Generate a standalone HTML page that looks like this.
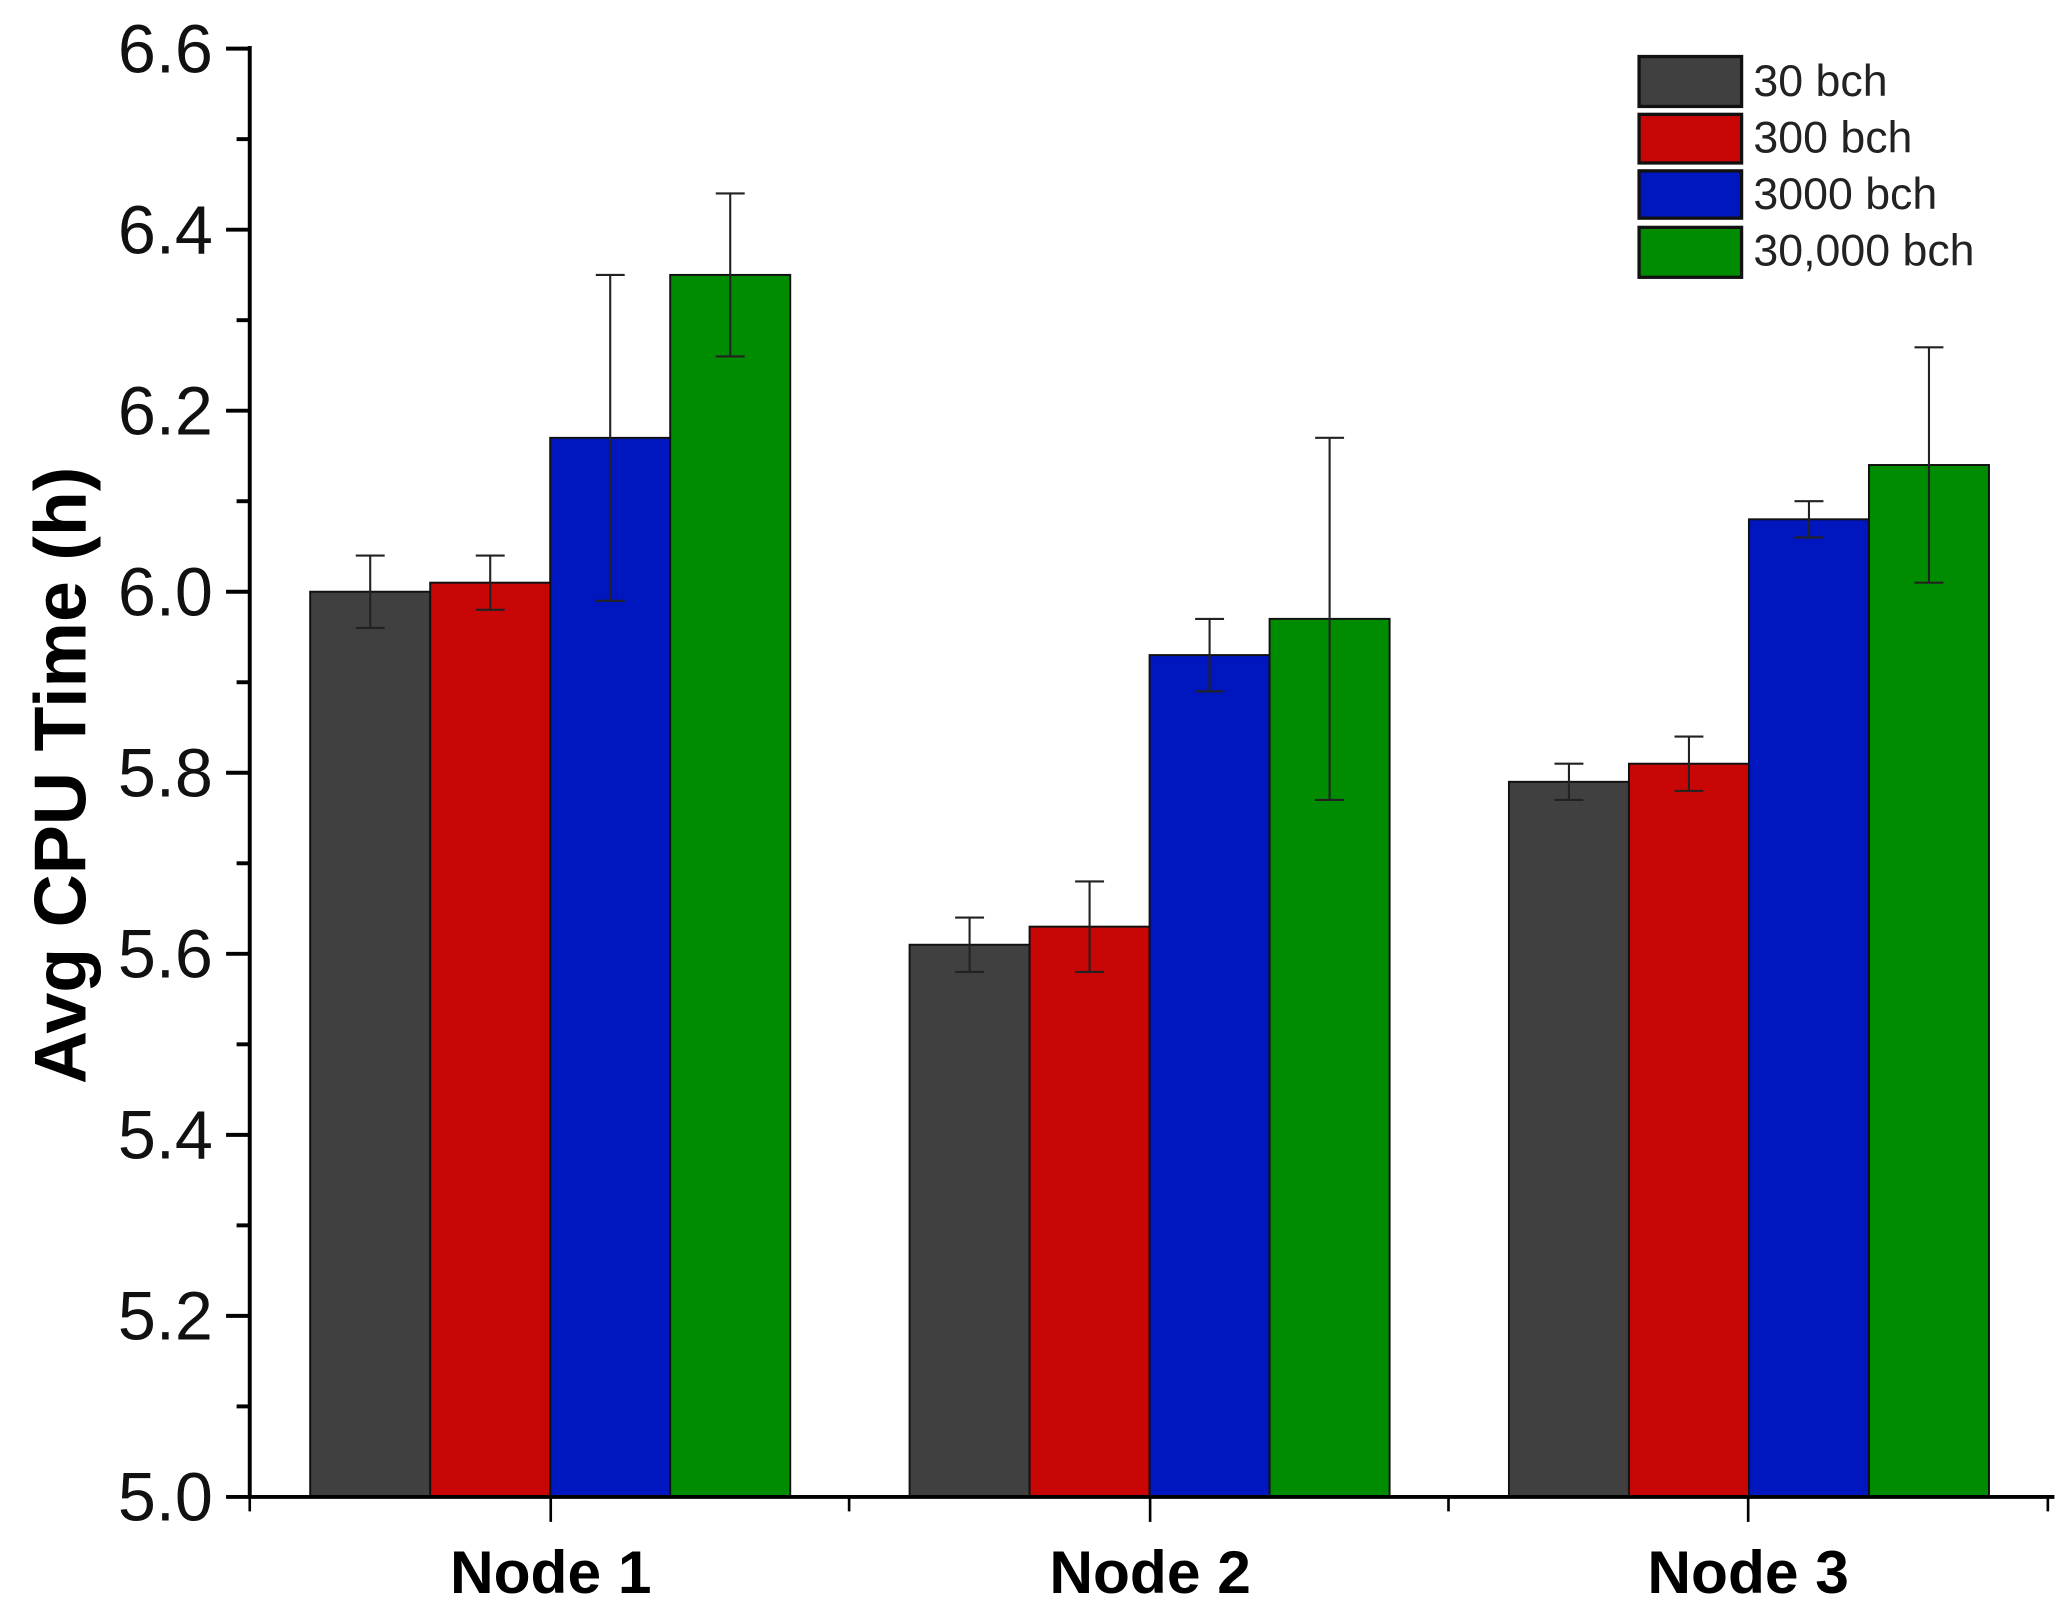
<!DOCTYPE html>
<html><head><meta charset="utf-8"><style>html,body{margin:0;padding:0;background:#fff}svg{display:block}</style></head>
<body>
<svg width="2061" height="1606" viewBox="0 0 1568 1222" preserveAspectRatio="none" xmlns="http://www.w3.org/2000/svg" font-family="Liberation Sans, Arial, sans-serif">
<rect width="1568" height="1222" fill="#fff"/>
<g id="bars" stroke="#111" stroke-width="1.5"></g>
<g id="err" stroke="#222" stroke-width="1.6" fill="none"></g>
<g id="axes" stroke="#000" stroke-width="3" fill="none">
<line x1="190" y1="35" x2="190" y2="1140"/>
<line x1="188" y1="1139" x2="1563" y2="1139"/>
</g>
<g id="yt" stroke="#000" stroke-width="3"></g>
<g id="yl" font-size="52" text-anchor="end" fill="#111"></g>
<g id="xt" stroke="#000" stroke-width="2"></g>
<g font-size="46" font-weight="bold" text-anchor="middle" fill="#000">
<text x="419" y="1212">Node 1</text><text x="875" y="1212">Node 2</text><text x="1330" y="1212">Node 3</text>
</g>
<text transform="translate(65,590) rotate(-90)" font-size="56" font-weight="bold" text-anchor="middle" fill="#000">Avg CPU Time (h)</text>
<g stroke="#111" stroke-width="2.5">
<rect x="1247" y="43" width="78" height="38" fill="#404040"/>
<rect x="1247" y="87" width="78" height="37" fill="#c80606"/>
<rect x="1247" y="130" width="78" height="36" fill="#0016be"/>
<rect x="1247" y="173" width="78" height="38" fill="#008c00"/>
</g>
<g font-size="34" fill="#222">
<text x="1334" y="73">30 bch</text><text x="1334" y="116">300 bch</text><text x="1334" y="159">3000 bch</text><text x="1334" y="202">30,000 bch</text>
</g>
<script>
var NS="http://www.w3.org/2000/svg";
function Y(v){return 1139-(v-5)*688.75;}
function el(p,t,a,txt){var e=document.createElementNS(NS,t);for(var k in a)e.setAttribute(k,a[k]);if(txt)e.textContent=txt;document.getElementById(p).appendChild(e);}
var cols=["#404040","#c80606","#0016be","#008c00"];
var d=[[[6.00,.04],[6.01,.03],[6.17,.18],[6.35,.09]],[[5.61,.03],[5.63,.05],[5.93,.04],[5.97,.20]],[[5.79,.02],[5.81,.03],[6.08,.02],[6.14,.13]]];
var starts=[236,692,1148],w=91.3;
for(var g=0;g<3;g++)for(var i=0;i<4;i++){var x=starts[g]+i*w,v=d[g][i][0],e=d[g][i][1];
el("bars","rect",{x:x,y:Y(v),width:w,height:1139-Y(v),fill:cols[i]});
var cx=x+w/2;el("err","line",{x1:cx,y1:Y(v+e),x2:cx,y2:Y(v-e)});
el("err","line",{x1:cx-11,y1:Y(v+e),x2:cx+11,y2:Y(v+e)});el("err","line",{x1:cx-11,y1:Y(v-e),x2:cx+11,y2:Y(v-e)});}
for(var k=0;k<=16;k++){var v=5+k*0.1,y=Y(v),maj=k%2==0;
el("yt","line",{x1:maj?172:180,y1:y,x2:190,y2:y});
if(maj)el("yl","text",{x:162,y:y+18},v.toFixed(1));}
[419,875,1330].forEach(function(x){el("xt","line",{x1:x,y1:1139,x2:x,y2:1158});});
[190,646,1102,1558].forEach(function(x){el("xt","line",{x1:x,y1:1139,x2:x,y2:1150});});
</script>
</svg>
</body></html>
